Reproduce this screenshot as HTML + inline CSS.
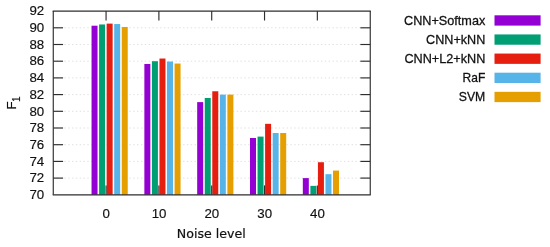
<!DOCTYPE html>
<html><head><meta charset="utf-8"><title>Noise level F1</title>
<style>
html,body{margin:0;padding:0;background:#fff;}
svg{display:block;filter:blur(0.3px);}
.t{font-family:"Liberation Sans",Arial,Helvetica,sans-serif;font-size:13.3px;fill:#111;stroke:#111;stroke-width:0.16px;}
.d{font-family:"DejaVu Sans","Liberation Sans",sans-serif;font-size:12.6px;fill:#111;stroke:#111;stroke-width:0.2px;}
.g{stroke-width:0.28px;}
</style></head><body>
<svg width="550" height="247" viewBox="0 0 550 247">
<rect width="550" height="247" fill="#fff"/>
<line x1="53.27" x2="370.25" y1="178.10" y2="178.10" stroke="#d8d8d8" stroke-width="0.8" stroke-dasharray="1.4 2.43" stroke-dashoffset="0.4"/>
<line x1="53.27" x2="370.25" y1="161.40" y2="161.40" stroke="#d8d8d8" stroke-width="0.8" stroke-dasharray="1.4 2.43" stroke-dashoffset="0.4"/>
<line x1="53.27" x2="370.25" y1="144.70" y2="144.70" stroke="#d8d8d8" stroke-width="0.8" stroke-dasharray="1.4 2.43" stroke-dashoffset="0.4"/>
<line x1="53.27" x2="370.25" y1="128.00" y2="128.00" stroke="#d8d8d8" stroke-width="0.8" stroke-dasharray="1.4 2.43" stroke-dashoffset="0.4"/>
<line x1="53.27" x2="370.25" y1="111.30" y2="111.30" stroke="#d8d8d8" stroke-width="0.8" stroke-dasharray="1.4 2.43" stroke-dashoffset="0.4"/>
<line x1="53.27" x2="370.25" y1="94.60" y2="94.60" stroke="#d8d8d8" stroke-width="0.8" stroke-dasharray="1.4 2.43" stroke-dashoffset="0.4"/>
<line x1="53.27" x2="370.25" y1="77.90" y2="77.90" stroke="#d8d8d8" stroke-width="0.8" stroke-dasharray="1.4 2.43" stroke-dashoffset="0.4"/>
<line x1="53.27" x2="370.25" y1="61.20" y2="61.20" stroke="#d8d8d8" stroke-width="0.8" stroke-dasharray="1.4 2.43" stroke-dashoffset="0.4"/>
<line x1="53.27" x2="370.25" y1="44.50" y2="44.50" stroke="#d8d8d8" stroke-width="0.8" stroke-dasharray="1.4 2.43" stroke-dashoffset="0.4"/>
<line x1="53.27" x2="370.25" y1="27.80" y2="27.80" stroke="#d8d8d8" stroke-width="0.8" stroke-dasharray="1.4 2.43" stroke-dashoffset="0.4"/>
<rect x="91.54" y="25.71" width="6.0" height="169.09" fill="#9400d3"/>
<rect x="99.09" y="24.46" width="6.0" height="170.34" fill="#009e73"/>
<rect x="106.64" y="23.62" width="6.0" height="171.18" fill="#e51e10"/>
<rect x="114.19" y="24.04" width="6.0" height="170.76" fill="#56b4e9"/>
<rect x="121.74" y="26.97" width="6.0" height="167.83" fill="#e69f00"/>
<rect x="144.36" y="63.96" width="6.0" height="130.84" fill="#9400d3"/>
<rect x="151.91" y="61.20" width="6.0" height="133.60" fill="#009e73"/>
<rect x="159.46" y="58.53" width="6.0" height="136.27" fill="#e51e10"/>
<rect x="167.01" y="61.53" width="6.0" height="133.27" fill="#56b4e9"/>
<rect x="174.56" y="63.54" width="6.0" height="131.26" fill="#e69f00"/>
<rect x="197.18" y="102.12" width="6.0" height="92.68" fill="#9400d3"/>
<rect x="204.73" y="97.94" width="6.0" height="96.86" fill="#009e73"/>
<rect x="212.28" y="91.26" width="6.0" height="103.54" fill="#e51e10"/>
<rect x="219.83" y="94.60" width="6.0" height="100.20" fill="#56b4e9"/>
<rect x="227.38" y="94.60" width="6.0" height="100.20" fill="#e69f00"/>
<rect x="250.00" y="138.02" width="6.0" height="56.78" fill="#9400d3"/>
<rect x="257.55" y="136.60" width="6.0" height="58.20" fill="#009e73"/>
<rect x="265.10" y="123.83" width="6.0" height="70.98" fill="#e51e10"/>
<rect x="272.65" y="133.01" width="6.0" height="61.79" fill="#56b4e9"/>
<rect x="280.20" y="133.01" width="6.0" height="61.79" fill="#e69f00"/>
<rect x="302.82" y="178.10" width="6.0" height="16.70" fill="#9400d3"/>
<rect x="310.37" y="185.87" width="6.0" height="8.93" fill="#009e73"/>
<rect x="317.92" y="162.23" width="6.0" height="32.57" fill="#e51e10"/>
<rect x="325.47" y="174.18" width="6.0" height="20.62" fill="#56b4e9"/>
<rect x="333.02" y="170.58" width="6.0" height="24.22" fill="#e69f00"/>
<text x="44.2" y="199.00" text-anchor="end" class="t">70</text>
<line x1="53.27" x2="63.07000000000001" y1="178.10" y2="178.10" stroke="#2e2e2e" stroke-width="1.15"/>
<line x1="370.25" x2="360.34999999999997" y1="178.10" y2="178.10" stroke="#2e2e2e" stroke-width="1.15"/>
<text x="44.2" y="182.30" text-anchor="end" class="t">72</text>
<line x1="53.27" x2="63.07000000000001" y1="161.40" y2="161.40" stroke="#2e2e2e" stroke-width="1.15"/>
<line x1="370.25" x2="360.34999999999997" y1="161.40" y2="161.40" stroke="#2e2e2e" stroke-width="1.15"/>
<text x="44.2" y="165.60" text-anchor="end" class="t">74</text>
<line x1="53.27" x2="63.07000000000001" y1="144.70" y2="144.70" stroke="#2e2e2e" stroke-width="1.15"/>
<line x1="370.25" x2="360.34999999999997" y1="144.70" y2="144.70" stroke="#2e2e2e" stroke-width="1.15"/>
<text x="44.2" y="148.90" text-anchor="end" class="t">76</text>
<line x1="53.27" x2="63.07000000000001" y1="128.00" y2="128.00" stroke="#2e2e2e" stroke-width="1.15"/>
<line x1="370.25" x2="360.34999999999997" y1="128.00" y2="128.00" stroke="#2e2e2e" stroke-width="1.15"/>
<text x="44.2" y="132.20" text-anchor="end" class="t">78</text>
<line x1="53.27" x2="63.07000000000001" y1="111.30" y2="111.30" stroke="#2e2e2e" stroke-width="1.15"/>
<line x1="370.25" x2="360.34999999999997" y1="111.30" y2="111.30" stroke="#2e2e2e" stroke-width="1.15"/>
<text x="44.2" y="115.50" text-anchor="end" class="t">80</text>
<line x1="53.27" x2="63.07000000000001" y1="94.60" y2="94.60" stroke="#2e2e2e" stroke-width="1.15"/>
<line x1="370.25" x2="360.34999999999997" y1="94.60" y2="94.60" stroke="#2e2e2e" stroke-width="1.15"/>
<text x="44.2" y="98.80" text-anchor="end" class="t">82</text>
<line x1="53.27" x2="63.07000000000001" y1="77.90" y2="77.90" stroke="#2e2e2e" stroke-width="1.15"/>
<line x1="370.25" x2="360.34999999999997" y1="77.90" y2="77.90" stroke="#2e2e2e" stroke-width="1.15"/>
<text x="44.2" y="82.10" text-anchor="end" class="t">84</text>
<line x1="53.27" x2="63.07000000000001" y1="61.20" y2="61.20" stroke="#2e2e2e" stroke-width="1.15"/>
<line x1="370.25" x2="360.34999999999997" y1="61.20" y2="61.20" stroke="#2e2e2e" stroke-width="1.15"/>
<text x="44.2" y="65.40" text-anchor="end" class="t">86</text>
<line x1="53.27" x2="63.07000000000001" y1="44.50" y2="44.50" stroke="#2e2e2e" stroke-width="1.15"/>
<line x1="370.25" x2="360.34999999999997" y1="44.50" y2="44.50" stroke="#2e2e2e" stroke-width="1.15"/>
<text x="44.2" y="48.70" text-anchor="end" class="t">88</text>
<line x1="53.27" x2="63.07000000000001" y1="27.80" y2="27.80" stroke="#2e2e2e" stroke-width="1.15"/>
<line x1="370.25" x2="360.34999999999997" y1="27.80" y2="27.80" stroke="#2e2e2e" stroke-width="1.15"/>
<text x="44.2" y="32.00" text-anchor="end" class="t">90</text>
<text x="44.2" y="15.30" text-anchor="end" class="t">92</text>
<line x1="106.07" x2="106.07" y1="194.8" y2="185.4" stroke="#2e2e2e" stroke-width="1.15"/>
<line x1="106.07" x2="106.07" y1="11.1" y2="20.5" stroke="#2e2e2e" stroke-width="1.15"/>
<text x="106.22" y="218.1" text-anchor="middle" class="t">0</text>
<line x1="158.89" x2="158.89" y1="194.8" y2="185.4" stroke="#2e2e2e" stroke-width="1.15"/>
<line x1="158.89" x2="158.89" y1="11.1" y2="20.5" stroke="#2e2e2e" stroke-width="1.15"/>
<text x="159.04" y="218.1" text-anchor="middle" class="t">10</text>
<line x1="211.71" x2="211.71" y1="194.8" y2="185.4" stroke="#2e2e2e" stroke-width="1.15"/>
<line x1="211.71" x2="211.71" y1="11.1" y2="20.5" stroke="#2e2e2e" stroke-width="1.15"/>
<text x="211.86" y="218.1" text-anchor="middle" class="t">20</text>
<line x1="264.53" x2="264.53" y1="194.8" y2="185.4" stroke="#2e2e2e" stroke-width="1.15"/>
<line x1="264.53" x2="264.53" y1="11.1" y2="20.5" stroke="#2e2e2e" stroke-width="1.15"/>
<text x="264.68" y="218.1" text-anchor="middle" class="t">30</text>
<line x1="317.35" x2="317.35" y1="194.8" y2="185.4" stroke="#2e2e2e" stroke-width="1.15"/>
<line x1="317.35" x2="317.35" y1="11.1" y2="20.5" stroke="#2e2e2e" stroke-width="1.15"/>
<text x="317.50" y="218.1" text-anchor="middle" class="t">40</text>
<line x1="52.695" x2="370.825" y1="11.1" y2="11.1" stroke="#2e2e2e" stroke-width="1.15"/>
<line x1="52.695" x2="370.825" y1="194.8" y2="194.8" stroke="#2e2e2e" stroke-width="1.15"/>
<line x1="53.27" x2="53.27" y1="11.1" y2="194.8" stroke="#2e2e2e" stroke-width="1.15"/>
<line x1="370.25" x2="370.25" y1="11.1" y2="194.8" stroke="#2e2e2e" stroke-width="1.15"/>
<text x="211.3" y="237.7" text-anchor="middle" class="d">Noise level</text>
<text transform="translate(15.5,109.5) rotate(-90)" class="t">F<tspan dx="-0.5" dy="4.0" font-size="10.3">1</tspan></text>
<rect x="494.5" y="15.30" width="46.1" height="10.3" fill="#9400d3"/>
<text x="404.00" y="24.90" textLength="81.3" lengthAdjust="spacingAndGlyphs" class="t g">CNN+Softmax</text>
<rect x="494.5" y="34.43" width="46.1" height="10.3" fill="#009e73"/>
<text x="426.10" y="43.95" textLength="59.2" lengthAdjust="spacingAndGlyphs" class="t g">CNN+kNN</text>
<rect x="494.5" y="53.56" width="46.1" height="10.3" fill="#e51e10"/>
<text x="404.40" y="63.00" textLength="80.9" lengthAdjust="spacingAndGlyphs" class="t g">CNN+L2+kNN</text>
<rect x="494.5" y="72.69" width="46.1" height="10.3" fill="#56b4e9"/>
<text x="462.60" y="82.05" textLength="22.7" lengthAdjust="spacingAndGlyphs" class="t g">RaF</text>
<rect x="494.5" y="91.82" width="46.1" height="10.3" fill="#e69f00"/>
<text x="458.80" y="101.10" textLength="26.5" lengthAdjust="spacingAndGlyphs" class="t g">SVM</text>
</svg>
</body></html>
